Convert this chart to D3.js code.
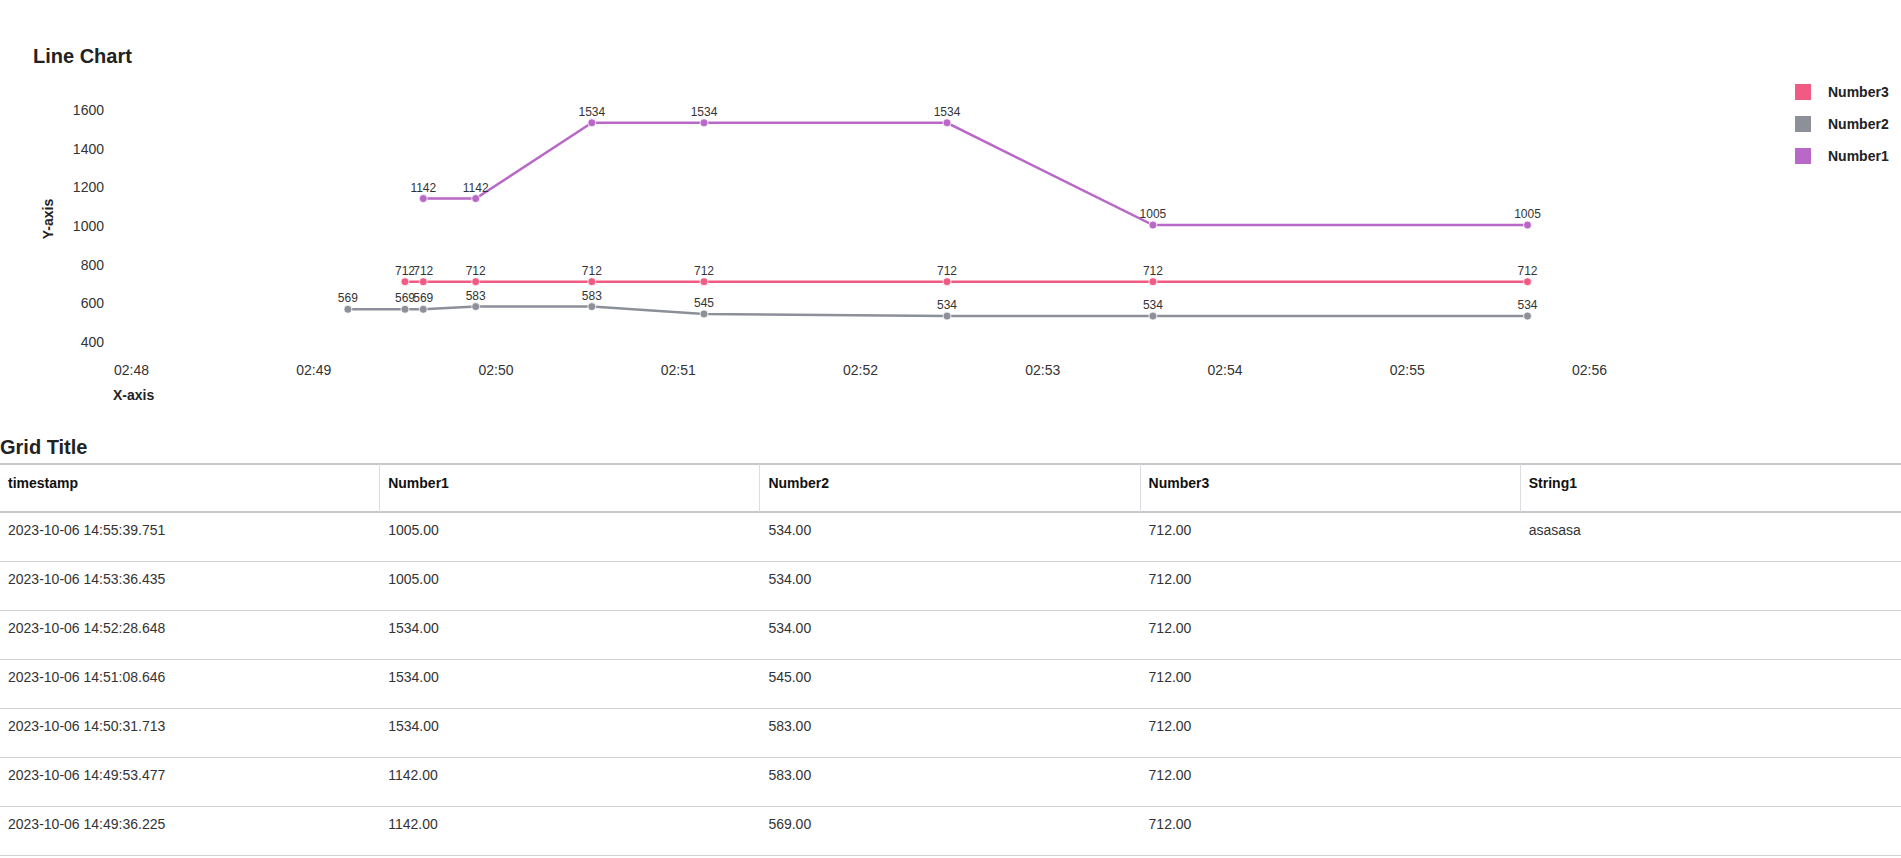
<!DOCTYPE html>
<html>
<head>
<meta charset="utf-8">
<script src="https://cdn.jsdelivr.net/npm/d3@7"></script>
<style>
    body { margin: 0; font-family: "Liberation Sans", Arial, sans-serif; color: #333; overflow: hidden; background: #fff; }
    #chart { position: absolute; left: 0; top: 0; }
    #grid-title { position: absolute; left: 0; top: 435px; font-size: 20px; line-height: 24px; font-weight: bold; color: #222; }
    #grid { position: absolute; left: 0; top: 463px; width: 1901px; }
    table { width: 100%; border-collapse: separate; border-spacing: 0; table-layout: fixed; font-size: 14px; line-height: 16px; }
    th { text-align: left; font-weight: bold; color: #111; padding: 10px 8px 20px; border-top: 2px solid #c6c8cc; border-bottom: 2px solid #c6c8cc; border-right: 1px solid #dcdde0; }
    th:last-child { border-right: none; }
    td { padding: 9px 8px 23px; border-bottom: 1px solid #cfd1d4; color: #333; white-space: nowrap; }
</style>
</head>
<body>
<div id="chart"></div>
<div id="grid-title">Grid Title</div>
<div id="grid"></div>
<script>
// Data (oldest first)
const timestamps = [
    "2023-10-06 14:49:11.400",
    "2023-10-06 14:49:30.200",
    "2023-10-06 14:49:36.225",
    "2023-10-06 14:49:53.477",
    "2023-10-06 14:50:31.713",
    "2023-10-06 14:51:08.646",
    "2023-10-06 14:52:28.648",
    "2023-10-06 14:53:36.435",
    "2023-10-06 14:55:39.751"
];
const number1 = [null, null, 1142, 1142, 1534, 1534, 1534, 1005, 1005];
const number2 = [569, 569, 569, 583, 583, 545, 534, 534, 534];
const number3 = [null, 712, 712, 712, 712, 712, 712, 712, 712];
const string1 = ["", "", "", "", "", "", "", "", "asasasa"];

const yTicks = [400, 600, 800, 1000, 1200, 1400, 1600];
const xStart = "2023-10-06 14:48:00.000";
const xEnd = "2023-10-06 14:56:00.000";
const columns = ["timestamp", "Number1", "Number2", "Number3", "String1"];

const seriesNames = ["Number3", "Number2", "Number1"];
const seriesColors = ["#f05a83", "#8e9099", "#b968c7"];

function createChart() {
    const parse = d3.timeParse("%Y-%m-%d %H:%M:%S.%L");
    const times = timestamps.map(parse);
    const seriesValues = [number3, number2, number1];

    const svg = d3.select("#chart")
        .append("svg")
        .attr("width", 1901)
        .attr("height", 420)
        .style("font-family", "'Liberation Sans', Arial, sans-serif");

    // Scales
    const x = d3.scaleTime()
        .domain([parse(xStart), parse(xEnd)])
        .range([131, 1589]);

    const y = d3.scaleLinear()
        .domain([300, 1700])
        .range([361.3, 90.7]);

    // Title
    svg.append("text")
        .attr("x", 33)
        .attr("y", 63)
        .style("font-size", "20px")
        .style("font-weight", "bold")
        .attr("fill", "#222")
        .text("Line Chart");

    // Y axis (labels only)
    const yAxis = svg.append("g")
        .attr("transform", "translate(104,0)")
        .call(d3.axisLeft(y)
            .tickValues(yTicks)
            .tickFormat(d3.format("d"))
            .tickSize(0)
            .tickPadding(0));
    yAxis.select(".domain").remove();
    yAxis.selectAll("text")
        .style("font-size", "14px")
        .style("font-family", "'Liberation Sans', Arial, sans-serif")
        .attr("fill", "#333");

    // X axis (labels only)
    const xAxis = svg.append("g")
        .attr("transform", "translate(0,361)")
        .call(d3.axisBottom(x)
            .ticks(d3.timeMinute.every(1))
            .tickFormat(d3.timeFormat("%I:%M"))
            .tickSize(0)
            .tickPadding(4));
    xAxis.select(".domain").remove();
    xAxis.selectAll("text")
        .style("font-size", "14px")
        .style("font-family", "'Liberation Sans', Arial, sans-serif")
        .attr("fill", "#333");

    // Axis labels
    svg.append("text")
        .attr("x", 113)
        .attr("y", 400)
        .style("font-size", "14px")
        .style("font-weight", "bold")
        .attr("fill", "#222")
        .text("X-axis");

    svg.append("text")
        .attr("transform", "rotate(-90)")
        .attr("x", -219)
        .attr("y", 53)
        .attr("text-anchor", "middle")
        .style("font-size", "14px")
        .style("font-weight", "bold")
        .attr("fill", "#222")
        .text("Y-axis");

    // Lines, points, value labels
    seriesValues.forEach((values, s) => {
        const pts = times.map((t, i) => ({ t, v: values[i] })).filter(d => d.v !== null);
        const color = seriesColors[s];

        const line = d3.line()
            .x(d => x(d.t))
            .y(d => y(d.v));

        svg.append("path")
            .datum(pts)
            .attr("fill", "none")
            .attr("stroke", color)
            .attr("stroke-width", 2.5)
            .attr("d", line);

        svg.selectAll(null)
            .data(pts)
            .enter()
            .append("circle")
            .attr("cx", d => x(d.t))
            .attr("cy", d => y(d.v))
            .attr("r", 4)
            .attr("fill", color)
            .attr("stroke", "#fff")
            .attr("stroke-width", 0.8);

        svg.selectAll(null)
            .data(pts)
            .enter()
            .append("text")
            .attr("x", d => x(d.t))
            .attr("y", d => y(d.v) - 7)
            .attr("text-anchor", "middle")
            .style("font-size", "12px")
            .attr("fill", "#333")
            .text(d => d.v);
    });

    // Legend
    const legend = svg.append("g")
        .attr("transform", "translate(1795,84)");

    seriesNames.forEach((name, i) => {
        const g = legend.append("g")
            .attr("transform", `translate(0, ${i * 32})`);
        g.append("rect")
            .attr("width", 16)
            .attr("height", 16)
            .attr("fill", seriesColors[i]);
        g.append("text")
            .attr("x", 33)
            .attr("y", 13)
            .style("font-size", "14px")
            .style("font-weight", "bold")
            .attr("fill", "#222")
            .text(name);
    });
}

function createGrid() {
    const fmt = d3.format(".2f");
    // Newest first; only the rows that fit on screen
    const rows = timestamps.map((t, i) => [
        t,
        number1[i] === null ? "" : fmt(number1[i]),
        number2[i] === null ? "" : fmt(number2[i]),
        number3[i] === null ? "" : fmt(number3[i]),
        string1[i]
    ]).reverse().slice(0, 7);

    const table = d3.select("#grid").append("table");
    table.append("thead").append("tr")
        .selectAll("th")
        .data(columns)
        .enter()
        .append("th")
        .text(d => d);

    table.append("tbody")
        .selectAll("tr")
        .data(rows)
        .enter()
        .append("tr")
        .selectAll("td")
        .data(d => d)
        .enter()
        .append("td")
        .text(d => d);
}

createChart();
createGrid();
</script>
</body>
</html>
